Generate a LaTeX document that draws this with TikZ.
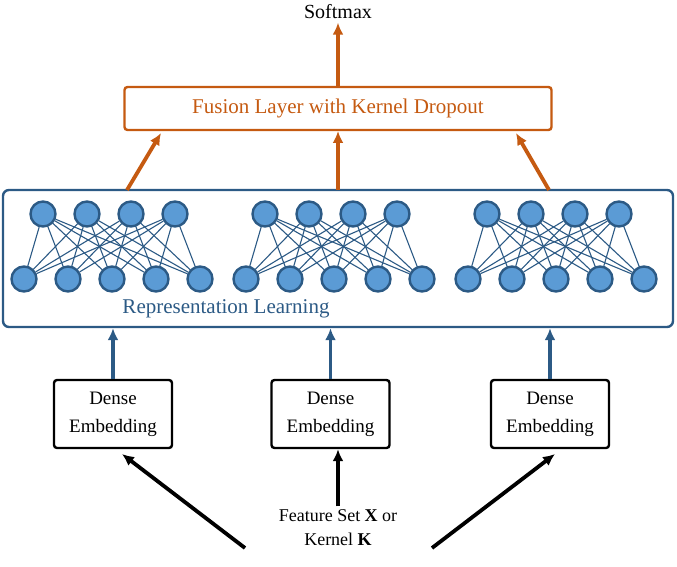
\documentclass[tikz,border=0pt]{standalone}
\usepackage{fontspec}
\setmainfont{Liberation Serif}
\usetikzlibrary{arrows.meta}
\definecolor{dblue}{HTML}{2C5A85}
\definecolor{lblue}{HTML}{5B9BD5}
\definecolor{orng}{HTML}{C55A11}
\begin{document}
\begin{tikzpicture}[x=1pt,y=-1pt,
 neuron/.style={circle,draw=dblue,line width=2.4pt,fill=lblue,minimum size=25pt,inner sep=0pt},
 edge/.style={dblue,line width=1.1pt},
 dense/.style={draw=black,line width=2.4pt,rounded corners=3pt,minimum width=118pt,minimum height=68pt,align=center,font=\fontsize{19}{28}\selectfont},
 barr/.style={-{Latex[length=12pt,width=11pt]},dblue,line width=3.8pt},
 oarr/.style={-{Latex[length=12pt,width=11pt]},orng,line width=3.8pt},
 karr/.style={-{Latex[length=12pt,width=11pt]},black,line width=3.8pt}]
\useasboundingbox (0,0) rectangle (677,567);
\node[draw=dblue,line width=2.4pt,rounded corners=6pt,minimum width=670pt,minimum height=137pt] (rep) at (338,258.5) {};
\node[text=dblue,font=\fontsize{21}{24}\selectfont] (replab) at (226,309) {Representation Learning};
\foreach \c in {0,1,2}{
 \foreach \i in {0,...,4}{\node[neuron] (b\c\i) at (24+222*\c+44*\i,279) {};}
 \foreach \j in {0,...,3}{\node[neuron] (t\c\j) at (43+222*\c+44*\j,214) {};}
 \foreach \i in {0,...,4}{\foreach \j in {0,...,3}{\draw[edge] (b\c\i) -- (t\c\j);}}
}
\node[draw=orng,line width=2.4pt,rounded corners=3pt,minimum width=427pt,minimum height=43pt,text=orng,font=\fontsize{21}{24}\selectfont] (fus) at (338,108.5) {Fusion Layer with Kernel Dropout};
\node[font=\fontsize{20}{24}\selectfont] (soft) at (338,12) {Softmax};
\draw[oarr] (fus) -- (soft.south);
\coordinate (r1) at (127,190); \coordinate (r2) at (338,190); \coordinate (r3) at (549,190);
\coordinate (f1) at (161,133); \coordinate (f2) at (338,131); \coordinate (f3) at (516,133);
\draw[oarr] (r1) -- (f1); \draw[oarr] (r2) -- (f2); \draw[oarr] (r3) -- (f3);
\node[dense] (d1) at (113,414) {Dense\\Embedding};
\node[dense] (d2) at (330.5,414) {Dense\\Embedding};
\node[dense] (d3) at (550,414) {Dense\\Embedding};
\draw[barr] (d1.north) -- (d1.north |- rep.south);
\draw[barr] (d2.north) -- (d2.north |- rep.south);
\draw[barr] (d3.north) -- (d3.north |- rep.south);
\node[align=center,font=\fontsize{18}{24}\selectfont] (feat) at (338,528) {Feature Set \textbf{X} or\\Kernel \textbf{K}};
\coordinate (s1) at (245,548); \coordinate (s3) at (432,548);
\draw[karr] (s1) -- (122,454);
\draw[karr] (feat.north) -- (d2.south -| feat.north);
\draw[karr] (s3) -- (555,454);
\end{tikzpicture}
\end{document}
